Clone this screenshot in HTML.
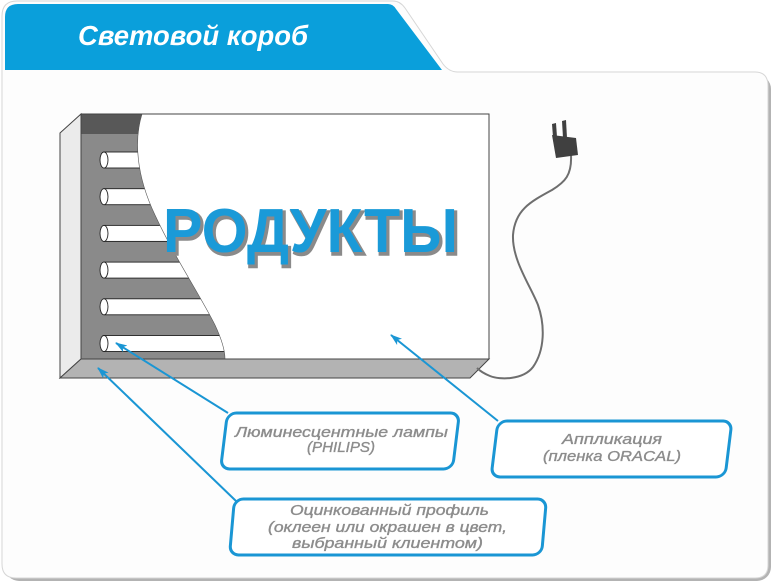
<!DOCTYPE html>
<html><head><meta charset="utf-8"><style>
html,body{margin:0;padding:0;background:#fff;}
svg{display:block;}
text{font-family:"Liberation Sans","DejaVu Sans",sans-serif;}
</style></head><body>
<svg width="774" height="583" viewBox="0 0 774 583" xmlns="http://www.w3.org/2000/svg">
<defs>
<marker id="ah" viewBox="0 0 12 8" refX="11" refY="4" markerWidth="12" markerHeight="8" markerUnits="userSpaceOnUse" orient="auto">
<path d="M0,0 L12,4 L0,8 L3,4 Z" fill="#1a96d4"/>
</marker>
</defs>
<!-- panel shadow -->
<rect x="5" y="75" width="766" height="506" rx="14" fill="#b3b3b3"/>
<!-- panel + tab outline -->
<path d="M17,1 L393,1 Q400,1 405,8 L443,64 Q449,72 458,72 L755,72 Q768,72 768,86 L768,565 Q768,578 755,578 L16,578 Q2,578 2,564 L2,16 Q2,1 17,1 Z" fill="#fdfdfd" stroke="#d6d6d6" stroke-width="1"/>
<!-- blue tab -->
<path d="M5,70 L5,17 Q5,4 18,4 L388,4 Q393,4 396,9 L442,70 Z" fill="#0a9fdb"/>
<text x="78" y="45" font-size="28" font-weight="bold" font-style="italic" fill="#ffffff" textLength="230" lengthAdjust="spacingAndGlyphs">Световой короб</text>

<!-- light box -->
<polygon points="60,133 81,114 81,359 60,378" fill="#ebebeb" stroke="#444" stroke-width="1"/>
<polygon points="81,359 489,359 470,378 60,378" fill="#b3b3b3" stroke="#444" stroke-width="1"/>
<rect x="81" y="114" width="408" height="245" fill="#8a8a8a"/>
<rect x="81" y="114" width="80" height="20" fill="#585858"/>
<g fill="#fff" stroke="#222" stroke-width="0.9">
<rect x="104" y="152" width="200" height="16"/><ellipse cx="104" cy="160" rx="4" ry="8"/>
<rect x="104" y="188.7" width="200" height="16"/><ellipse cx="104" cy="196.7" rx="4" ry="8"/>
<rect x="104" y="225.4" width="200" height="16"/><ellipse cx="104" cy="233.4" rx="4" ry="8"/>
<rect x="104" y="262.1" width="200" height="16"/><ellipse cx="104" cy="270.1" rx="4" ry="8"/>
<rect x="104" y="298.8" width="200" height="16"/><ellipse cx="104" cy="306.8" rx="4" ry="8"/>
<rect x="104" y="335.5" width="200" height="16"/><ellipse cx="104" cy="343.5" rx="4" ry="8"/>
</g>
<path d="M142,114 L489,114 L489,359 L225,359 C225,350 222,340 215,325 C200,295 175,258 155,215 C136,175 134,140 142,114 Z" fill="#fff"/>
<path d="M225,359 C225,350 222,340 215,325 C200,295 175,258 155,215 C136,175 134,140 142,114" fill="none" stroke="#555" stroke-width="0.6"/>
<rect x="81" y="114" width="408" height="245" fill="none" stroke="#444" stroke-width="1"/>

<!-- ПРОДУКТЫ text -->
<text x="165" y="254.5" font-size="62" font-weight="bold" fill="#8a8a8a" stroke="#8a8a8a" stroke-width="2.5" textLength="295" lengthAdjust="spacingAndGlyphs">РОДУКТЫ</text>
<text x="163" y="252" font-size="62" font-weight="bold" fill="#1a9ad8" textLength="295" lengthAdjust="spacingAndGlyphs">РОДУКТЫ</text>

<!-- cord & plug -->
<path d="M571,155 C572,175 565,182 552,190 C530,202 515,210 513,235 C512,260 530,285 538,305 C545,325 545,350 533,367 C523,380 500,380 490,376 C485,374 480,371 477,368" fill="none" stroke="#6e6e6e" stroke-width="2"/>
<polygon points="552,135 576,138 578,155 556,158" fill="#404040"/>
<polygon points="552,124 556,123 557,137 553,137" fill="#404040"/>
<polygon points="562,121 566,120 567,138 563,138" fill="#404040"/>

<!-- arrows -->
<g stroke="#1a96d4" stroke-width="2" fill="none">
<line x1="228" y1="413" x2="116" y2="343" marker-end="url(#ah)"/>
<line x1="236" y1="501" x2="98" y2="368" marker-end="url(#ah)"/>
<line x1="498" y1="421" x2="391" y2="335" marker-end="url(#ah)"/>
</g>

<!-- label boxes -->
<g fill="#ffffff" stroke="#1a96d4" stroke-width="3">
<g transform="translate(340,441) skewX(-7)"><rect x="-116" y="-28" width="232" height="56" rx="9"/></g>
<g transform="translate(611.5,449) skewX(-7)"><rect x="-117" y="-28" width="234" height="56" rx="9"/></g>
<g transform="translate(388,527) skewX(-5)"><rect x="-156" y="-28" width="312" height="56" rx="9"/></g>
</g>
<g font-size="15" font-style="italic" fill="#8c8c8c" stroke="#8c8c8c" stroke-width="0.35" text-anchor="middle">
<text x="341.5" y="437" textLength="213" lengthAdjust="spacingAndGlyphs">Люминесцентные лампы</text>
<text x="341" y="452" textLength="68" lengthAdjust="spacingAndGlyphs">(PHILIPS)</text>
<text x="612" y="444" textLength="100" lengthAdjust="spacingAndGlyphs">Аппликация</text>
<text x="612" y="461" textLength="138" lengthAdjust="spacingAndGlyphs">(пленка ORACAL)</text>
<text x="389.5" y="515" textLength="199" lengthAdjust="spacingAndGlyphs">Оцинкованный профиль</text>
<text x="387.5" y="532" textLength="239" lengthAdjust="spacingAndGlyphs">(оклеен или окрашен в цвет,</text>
<text x="387.5" y="548" textLength="191" lengthAdjust="spacingAndGlyphs">выбранный клиентом)</text>
</g>
</svg>
</body></html>
